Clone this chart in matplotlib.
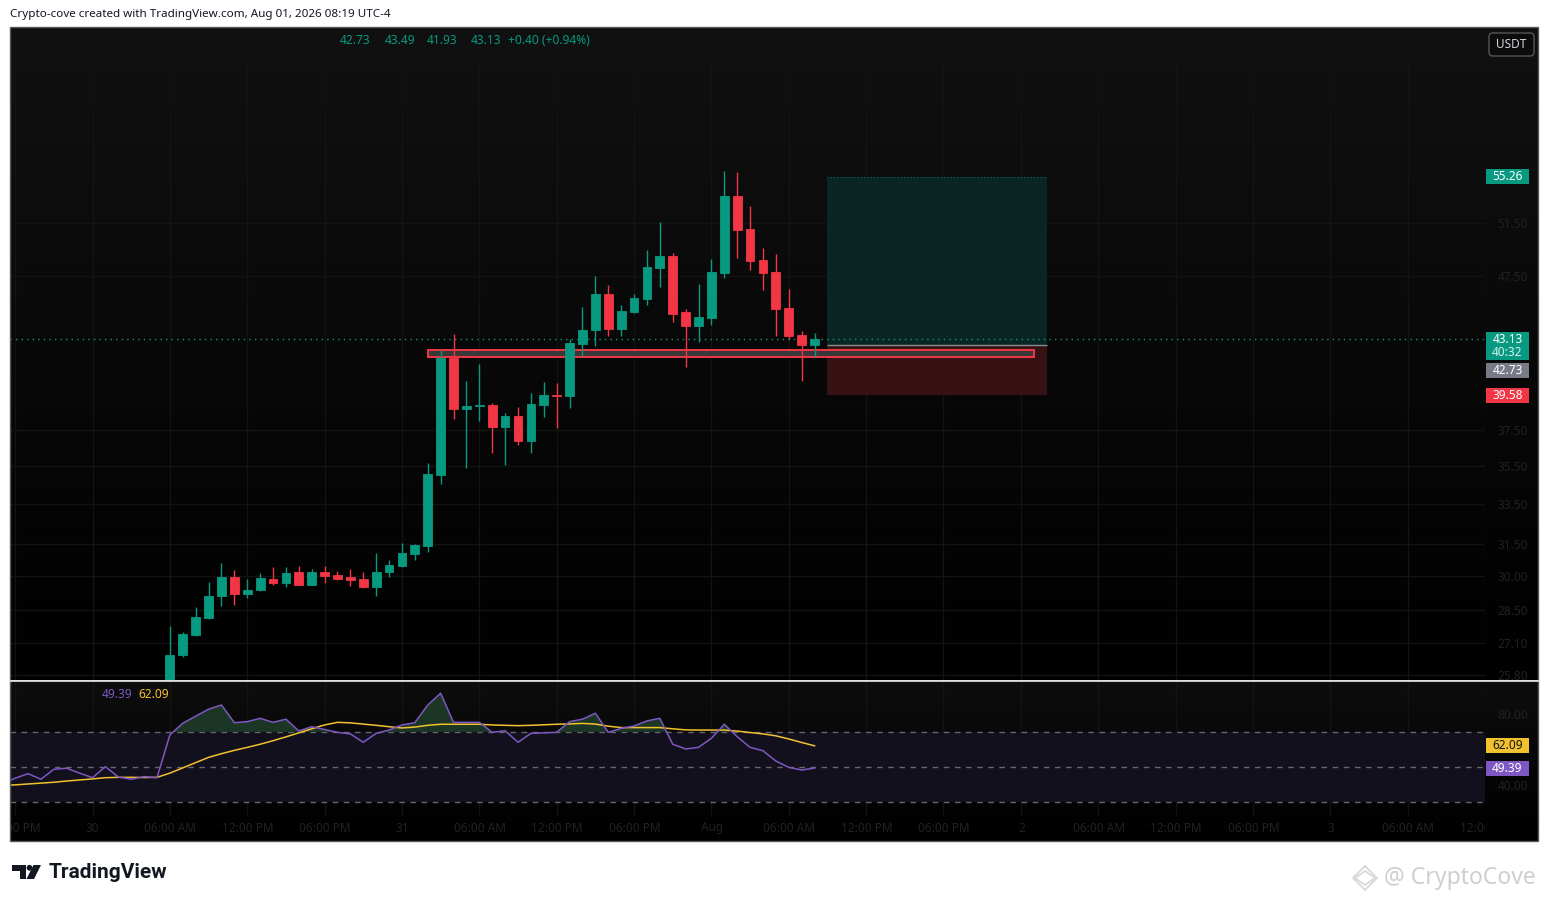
import numpy as np
import pandas as pd
import matplotlib
matplotlib.use('Agg')
import matplotlib.pyplot as plt
import matplotlib.dates as mdates
from matplotlib.patches import Rectangle, Polygon, Circle, FancyBboxPatch
from matplotlib.lines import Line2D
from matplotlib.transforms import Affine2D
from matplotlib.ticker import NullLocator, FixedLocator, FixedFormatter
import matplotlib.colors as mcolors

# ---------------- data ----------------
candle_start = '2026-07-30 06:00'
opens = [25.22, 26.58, 27.43, 28.15, 29.11, 29.97, 29.20, 29.38, 29.88, 29.70,
         30.20, 29.61, 30.20, 30.06, 29.97, 29.88, 29.52, 30.20, 30.48, 31.04,
         31.43, 35.03, 41.89, 38.75, 38.93, 38.99, 37.70, 38.34, 36.90, 38.99,
         39.56, 39.53, 42.80, 43.72, 46.20, 43.79, 44.94, 45.85, 48.07, 48.96,
         44.94, 43.99, 44.53, 47.71, 53.67, 51.03, 48.66, 47.78, 45.22, 43.39,
         42.73]
highs = [27.81, 27.55, 28.63, 29.74, 30.62, 30.29, 29.88, 30.15, 30.43, 30.43,
         30.48, 30.34, 30.48, 30.25, 30.34, 30.20, 31.09, 30.76, 31.57, 31.52,
         35.68, 42.41, 43.46, 40.44, 41.51, 39.11, 38.51, 38.87, 39.71, 40.38,
         40.32, 43.13, 45.29, 47.49, 46.84, 45.43, 46.20, 49.41, 51.58, 49.19,
         45.15, 46.91, 48.74, 55.76, 55.67, 52.85, 49.57, 49.11, 46.55, 43.66,
         43.49]
lows = [24.83, 26.52, 27.40, 28.12, 28.67, 28.71, 29.02, 29.34, 29.61, 29.52,
        29.60, 29.58, 29.70, 29.83, 29.56, 29.47, 29.11, 29.97, 30.43, 30.76,
        31.14, 34.55, 38.16, 35.41, 38.04, 36.23, 35.57, 36.67, 36.23, 38.28,
        37.64, 38.81, 42.02, 42.67, 43.33, 43.33, 44.90, 45.43, 46.70, 44.26,
        41.32, 42.93, 44.06, 47.34, 48.81, 47.93, 46.48, 43.33, 43.13, 40.44,
        41.93]
closes = [26.60, 27.47, 28.19, 29.11, 29.97, 29.20, 29.38, 29.92, 29.70, 30.15,
          29.61, 30.20, 30.02, 29.88, 29.83, 29.52, 30.20, 30.53, 31.09, 31.47,
          35.08, 41.89, 38.75, 38.93, 38.99, 37.70, 38.34, 36.90, 39.05, 39.59,
          39.53, 42.86, 43.72, 46.20, 43.79, 45.01, 45.92, 48.15, 48.96, 44.81,
          43.99, 44.60, 47.78, 53.67, 50.95, 48.59, 47.71, 45.15, 43.33, 42.73,
          43.13]

rsi_start = '2026-07-29 17:00'
rsi_values = [40.5, 43.6, 46.2, 43.0, 48.7, 49.3, 46.5, 43.9, 50.2, 44.3, 43.0, 44.5, 43.9,
              68.3, 75.0, 79.0, 83.0, 85.4, 75.3, 75.9, 77.8, 75.5, 77.3, 70.6, 73.0,
              71.4, 69.8, 68.9, 64.1, 69.2, 71.1, 74.0, 75.3, 85.4, 92.1, 75.5, 75.5,
              75.5, 69.8, 70.7, 64.1, 69.2, 69.5, 69.8, 75.9, 77.3, 80.7, 69.8, 72.1,
              73.4, 76.3, 77.8, 63.0, 60.3, 61.2, 66.4, 74.4, 67.3, 61.2, 59.3, 53.4,
              49.8, 48.3, 49.39]
rsi_ma_values = [39.5, 39.8, 40.3, 40.8, 41.3, 42.0, 42.6, 43.2, 43.9, 44.1, 44.1, 44.0, 44.1,
                 46.5, 49.5, 52.5, 55.5, 57.6, 59.5, 61.2, 63.0, 65.0, 67.2, 69.5, 71.8,
                 74.0, 75.5, 75.2, 74.5, 73.8, 73.0, 72.3, 72.8, 73.8, 74.4, 74.4, 74.4,
                 74.4, 74.0, 73.8, 73.6, 73.8, 74.1, 74.4, 74.6, 74.9, 74.5, 73.3, 72.5,
                 72.5, 72.5, 72.5, 71.8, 71.2, 71.1, 71.1, 71.1, 70.5, 69.7, 68.9, 67.8,
                 66.0, 64.0, 62.09]
rsi_levels = [70, 50, 30]

ohlc_texts = ['42.73', '43.49', '41.93', '43.13', '+0.40 (+0.94%)']
last_price = 43.13
countdown = '40:32'
entry_price = 42.73
target_price = 55.26
stop_price = 39.58
position_start = '2026-08-01 09:00'
position_end = '2026-08-02 02:00'
zone_low, zone_high = 41.95, 42.41
zone_start = '2026-07-31 02:00'
zone_end = '2026-08-02 01:00'

price_ticks = [25.80, 27.10, 28.50, 30.00, 31.50, 33.50, 35.50, 37.50, 47.50, 51.50]
rsi_ticks = [40, 80]
time_tick_start = '2026-07-29 18:00'
time_tick_labels = ['06:00 PM', '30', '06:00 AM', '12:00 PM', '06:00 PM', '31', '06:00 AM',
                    '12:00 PM', '06:00 PM', 'Aug', '06:00 AM', '12:00 PM', '06:00 PM', '2',
                    '06:00 AM', '12:00 PM', '06:00 PM', '3', '06:00 AM', '12:00 PM']
view_start = '2026-07-29 17:36'
view_end = '2026-08-03 11:56'

header_text = 'Crypto-cove created with TradingView.com, Aug 01, 2026 08:19 UTC-4'

# ---------------- style ----------------
GREEN = '#089981'
RED = '#f23645'
PURPLE = '#7e57c2'
YELLOW = '#f2c12e'
DIM = '#222222'
FONT = ['Noto Sans', 'DejaVu Sans']
plt.rcParams['font.family'] = FONT

W, H = 1549, 902
fig = plt.figure(figsize=(W / 100, H / 100), dpi=100, facecolor='white')
PX = Affine2D().scale(1, -1).translate(0, H)  # pixel coords, origin top-left


def add_axes_px(x0, y0, x1, y1, **kw):
    return fig.add_axes([x0 / W, 1 - y1 / H, (x1 - x0) / W, (y1 - y0) / H], **kw)


def gradient_axes(x0, y0, x1, y1, top, bottom):
    a = add_axes_px(x0, y0, x1, y1)
    a.set_axis_off()
    g = np.linspace(0, 1, 256)[:, None, None]
    t = np.array(mcolors.to_rgb(top))[None, None, :]
    b = np.array(mcolors.to_rgb(bottom))[None, None, :]
    img = t * (1 - g) + b * g
    a.imshow(img, aspect='auto', extent=[0, 1, 0, 1], zorder=0)
    a.set_xlim(0, 1)
    a.set_ylim(0, 1)
    return a


gradient_axes(10, 28, 1538, 680, '#111111', '#000000')
gradient_axes(10, 681, 1538, 841, '#0d0d0d', '#000000')

xv0 = mdates.date2num(pd.Timestamp(view_start))
xv1 = mdates.date2num(pd.Timestamp(view_end))
tick_times = mdates.date2num(pd.date_range(time_tick_start, periods=len(time_tick_labels), freq='6h'))

# ---------------- price pane ----------------
ax = add_axes_px(10, 28, 1485, 680)
ax.set_facecolor('none')
ax.set_yscale('log')
ax.set_ylim(25.60, 69.38)
ax.set_xlim(xv0, xv1)
for s in ax.spines.values():
    s.set_visible(False)
ax.yaxis.set_major_locator(FixedLocator(price_ticks))
ax.yaxis.set_major_formatter(FixedFormatter(['%.2f' % v for v in price_ticks]))
ax.yaxis.set_minor_locator(NullLocator())
ax.yaxis.tick_right()
ax.set_xticks(tick_times)
ax.tick_params(axis='x', length=0, labelbottom=False)
ax.tick_params(axis='y', length=0, labelsize=8.5, labelcolor=DIM, pad=9)
ax.grid(True, color='#131313', linewidth=1, zorder=0)
ax.set_axisbelow(True)

t = mdates.date2num(pd.date_range(candle_start, periods=len(opens), freq='h'))
o = np.array(opens); h = np.array(highs); l = np.array(lows); c = np.array(closes)
cols = np.where(c >= o, GREEN, RED)

# support zone
zs = mdates.date2num(pd.Timestamp(zone_start)); ze = mdates.date2num(pd.Timestamp(zone_end))
ax.add_patch(Rectangle((zs, zone_low), ze - zs, zone_high - zone_low, facecolor='#383838',
                       edgecolor=RED, linewidth=1.4, zorder=3))

# long position box
ps = mdates.date2num(pd.Timestamp(position_start)); pe = mdates.date2num(pd.Timestamp(position_end))
ax.add_patch(Rectangle((ps, entry_price), pe - ps, target_price - entry_price,
                       facecolor='#0a2622', edgecolor='none', zorder=2))
ax.add_patch(Rectangle((ps, stop_price), pe - ps, entry_price - stop_price,
                       facecolor='#361215', edgecolor='none', zorder=2))
ax.hlines(entry_price, ps, pe, color='#8a8d96', linewidth=1.0, zorder=3.5)
ax.hlines(target_price, ps, pe, color=GREEN, linewidth=0.8, linestyles=(0, (1, 2)), alpha=0.6, zorder=3.5)

# current price line
ax.axhline(last_price, color=GREEN, linewidth=1, linestyle=(0, (1, 3)), zorder=2.5)

# candles
ax.vlines(t, l, h, colors=cols, linewidth=1.0, zorder=4)
ax.bar(t, np.abs(c - o), bottom=np.minimum(o, c), width=0.68 / 24, color=cols,
       edgecolor=cols, linewidth=0.6, zorder=5)

# ---------------- RSI pane ----------------
axr = add_axes_px(10, 681, 1485, 815)
axr.set_facecolor('none')
axr.set_xlim(xv0, xv1)
axr.set_ylim(22.6, 99.1)
for s in axr.spines.values():
    s.set_visible(False)
axr.yaxis.tick_right()
axr.set_yticks(rsi_ticks)
axr.set_yticklabels(['%.2f' % v for v in rsi_ticks])
axr.set_xticks(tick_times)
axr.tick_params(axis='x', length=0, labelbottom=False)
axr.tick_params(axis='y', length=0, labelsize=8.5, labelcolor=DIM, pad=9)
axr.grid(True, axis='x', color='#131313', linewidth=1, zorder=0)
axr.set_axisbelow(True)
axr.axhspan(min(rsi_levels), max(rsi_levels), color='#13101e', zorder=1, linewidth=0)
for lv in rsi_levels:
    axr.axhline(lv, color='#66666e', linewidth=1, linestyle=(0, (4, 4)), zorder=2)

tr = mdates.date2num(pd.date_range(rsi_start, periods=len(rsi_values), freq='h'))
rv = np.array(rsi_values)
axr.fill_between(tr, rv, 70, where=rv > 70, interpolate=True, color='#1c3626', zorder=2.5, linewidth=0)
axr.plot(tr, np.array(rsi_ma_values), color=YELLOW, linewidth=1.1, zorder=3)
axr.plot(tr, rv, color=PURPLE, linewidth=1.1, zorder=4)

# ---------------- time axis ----------------
axt = add_axes_px(10, 815, 1485, 841)
axt.set_axis_off()
axt.set_xlim(xv0, xv1)
axt.set_ylim(0, 1)
for tt, lab in zip(tick_times, time_tick_labels):
    axt.text(tt, 0.5, lab, ha='center', va='center', fontsize=8.5, color=DIM, clip_on=True)

# ---------------- frame ----------------
fig.add_artist(Rectangle((10, 27), 1528, 814, transform=PX, fill=False, edgecolor='#5a5a5a', linewidth=1))
fig.add_artist(Line2D([10, 1538], [680.5, 680.5], transform=PX, color='#dcdcdc', linewidth=1.3))


# ---------------- axis labels (boxes) ----------------
def ypx(a, v):
    return H - a.transData.transform((xv0, v))[1]


def label_box(yc, text, fc, tc, hgt=15, bold=True):
    fig.add_artist(Rectangle((1486, yc - hgt / 2), 43, hgt, transform=PX, facecolor=fc, edgecolor='none'))
    fig.text(1507.5, yc, text, transform=PX, ha='center', va='center', fontsize=8.5,
             color=tc, fontweight='bold' if bold else 'normal')


label_box(ypx(ax, target_price), '%.2f' % target_price, GREEN, 'white')
yl = ypx(ax, last_price)
fig.add_artist(Rectangle((1486, yl - 6.5), 43, 28, transform=PX, facecolor=GREEN, edgecolor='none'))
fig.text(1507.5, yl + 0.5, '%.2f' % last_price, transform=PX, ha='center', va='center',
         fontsize=8.5, color='white', fontweight='bold')
fig.text(1507.5, yl + 14, countdown, transform=PX, ha='center', va='center', fontsize=8.5, color='#d8f0ea')
label_box(ypx(ax, entry_price) + 26, '%.2f' % entry_price, '#787b86', 'white')
label_box(ypx(ax, stop_price), '%.2f' % stop_price, RED, 'white')
label_box(ypx(axr, rsi_ma_values[-1]), '%.2f' % rsi_ma_values[-1], YELLOW, '#131313')
label_box(ypx(axr, rsi_values[-1]), '%.2f' % rsi_values[-1], PURPLE, 'white')

# ---------------- header / legends ----------------
fig.text(10, 14, header_text, transform=PX, ha='left', va='center', fontsize=8.4, color='#131722')
ohlc_x = [340, 385, 427, 471, 508]
for xx, s in zip(ohlc_x, ohlc_texts):
    fig.text(xx, 41, s, transform=PX, ha='left', va='center', fontsize=8.6, color=GREEN)
fig.text(102, 695, '%.2f' % rsi_values[-1], transform=PX, ha='left', va='center', fontsize=8.6, color=PURPLE)
fig.text(138, 695, '%.2f' % rsi_ma_values[-1], transform=PX, ha='left', va='center', fontsize=8.6,
         color=YELLOW, fontweight='bold')

# USDT button
fig.add_artist(FancyBboxPatch((1489, 33), 45, 23, boxstyle='round,pad=0,rounding_size=4', transform=PX,
                              facecolor='#0c0c0c', edgecolor='#555555', linewidth=1))
fig.text(1511.5, 44.5, 'USDT', transform=PX, ha='center', va='center', fontsize=8.5, color='#d1d4dc')

# TradingView logo
fig.add_artist(Polygon([(12, 865), (25.5, 865), (25.5, 879), (19.5, 879), (19.5, 871), (12, 871)],
                       closed=True, transform=PX, facecolor='#131722', edgecolor='none'))
fig.add_artist(Circle((29.5, 867.8), 2.9, transform=PX, facecolor='#131722', edgecolor='none'))
fig.add_artist(Polygon([(33.5, 865), (41, 865), (34, 879), (26.5, 879)], closed=True, transform=PX,
                       facecolor='#131722', edgecolor='none'))
fig.text(49, 872, 'TradingView', transform=PX, ha='left', va='center', fontsize=15, fontweight='bold',
         color='#131722', family=['Roboto', 'DejaVu Sans'])

# watermark
for d in (0, 5):
    fig.add_artist(Polygon([(1365, 866 + d), (1377 - d * 0.4, 878), (1365, 890 - d), (1353 + d * 0.4, 878)],
                           closed=True, transform=PX, fill=False, edgecolor='#d6d6d6', linewidth=1.2))
fig.text(1384, 878, '@ CryptoCove', transform=PX, ha='left', va='center', fontsize=16.5, color='#cfcfcf')

fig.savefig('out.png', dpi=100, facecolor='white')
